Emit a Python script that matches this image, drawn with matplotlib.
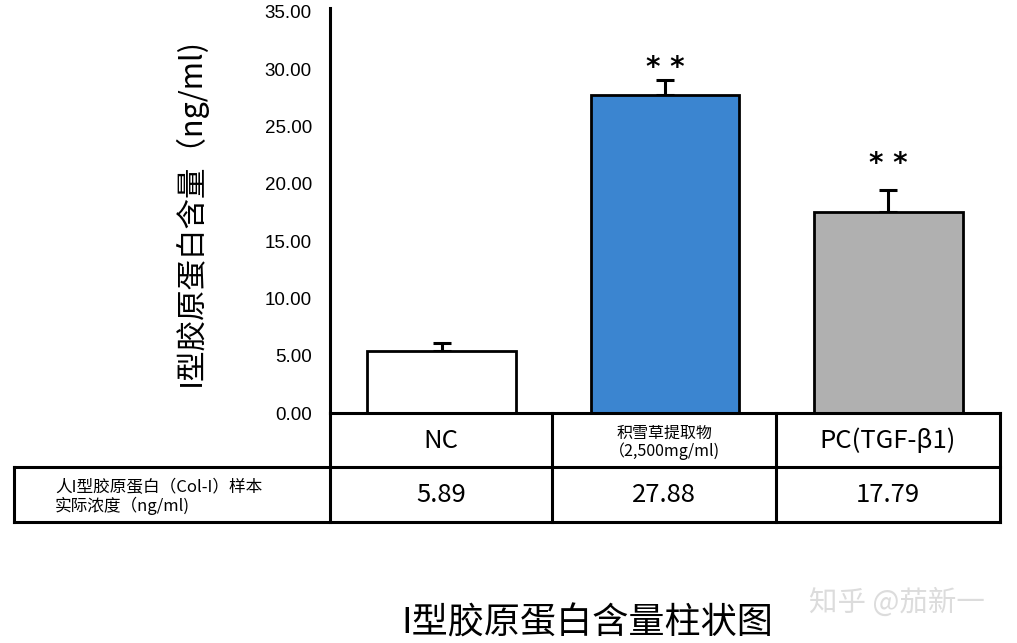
import matplotlib
matplotlib.use("Agg")
import matplotlib.pyplot as plt
from matplotlib.lines import Line2D

plt.rcParams['font.family'] = ['Noto Sans CJK SC', 'DejaVu Sans']

# ---------------- data ----------------
groups = ["NC", "积雪草提取物\n（2,500mg/ml)", "PC(TGF-β1)"]
bar_values = [5.42, 27.78, 17.58]          # bar heights
err_upper = [0.66, 1.30, 1.90]             # upper error bars
table_values = ["5.89", "27.88", "17.79"]  # values printed in the table
sig_labels = ["", "* *", "* *"]
sig_y = [None, 30.1, 21.7]
bar_colors = ["#ffffff", "#3b85d0", "#b0b0b0"]
yticks = [0, 5, 10, 15, 20, 25, 30, 35]
ylabel = "I型胶原蛋白含量（ng/ml)"
row_label = "人I型胶原蛋白（Col-I）样本\n实际浓度（ng/ml)"
title = "I型胶原蛋白含量柱状图"
watermark = "知乎 @茄新一"

W, H = 1017, 643
fig = plt.figure(figsize=(W / 100, H / 100), dpi=100)
fig.patch.set_facecolor("white")


def fx(x):
    return x / W


def fy(y):
    return 1 - y / H


# axes: x from 330 to 1000 px, y=0 at 413 px, y=35 at 12 px
ax_top = 8
ax = fig.add_axes([fx(330), fy(413), (1000 - 330) / W, (413 - ax_top) / H])
ax.set_xlim(-0.5, 2.5)
ax.set_ylim(0, 35 * (413 - ax_top) / (413 - 12))

x = list(range(len(groups)))
ax.bar(x, bar_values, width=0.665, color=bar_colors, edgecolor="black",
       linewidth=2.0, zorder=3)
ax.errorbar(x, bar_values, yerr=[[0] * len(x), err_upper], fmt="none",
            ecolor="black", elinewidth=2.2, capsize=6.5, capthick=2.2, zorder=2)
for xi, lab, yy in zip(x, sig_labels, sig_y):
    if lab:
        ax.text(xi, yy, lab, ha="center", va="center", fontsize=20,
                family="DejaVu Sans", fontweight="bold")

ax.set_yticks(yticks)
ax.set_yticklabels([f"{v:.2f}" for v in yticks], family="Liberation Sans",
                   fontsize=13.5)
ax.tick_params(axis="y", length=0, pad=13)
ax.set_xticks([])
for s in ["top", "right", "bottom"]:
    ax.spines[s].set_visible(False)
ax.spines["left"].set_linewidth(2.2)
ax.patch.set_alpha(0)

# ---------------- table ----------------
lw = 2.2


def hline(y, x0, x1):
    fig.add_artist(Line2D([fx(x0), fx(x1)], [fy(y), fy(y)], color="black",
                          lw=lw, solid_capstyle="projecting"))


def vline(x, y0, y1):
    fig.add_artist(Line2D([fx(x), fx(x)], [fy(y0), fy(y1)], color="black",
                          lw=lw, solid_capstyle="projecting"))


cols = [330, 552, 776, 1000]
hline(413, 330, 1000)
hline(467, 14, 1000)
hline(522, 14, 1000)
for c in cols:
    vline(c, 413, 522)
vline(14, 467, 522)

for i, g in enumerate(groups):
    cx = (cols[i] + cols[i + 1]) / 2
    if "\n" in g:
        fig.text(fx(cx), fy(442), g, ha="center", va="center", fontsize=11.5,
                 linespacing=1.05)
    else:
        fig.text(fx(cx), fy(441), g, ha="center", va="center", fontsize=18.5)
    fig.text(fx(cx), fy(495), table_values[i], ha="center", va="center",
             fontsize=18.5)

fig.text(fx(55), fy(497), row_label, ha="left", va="center", fontsize=12,
         linespacing=1.0)

# y label
fig.text(fx(190), fy(212), ylabel, rotation=90, ha="center", va="center",
         fontsize=22)

# title and watermark
fig.text(fx(587), fy(624), title, ha="center", va="center", fontsize=26)
fig.text(fx(897), fy(603), watermark, ha="center", va="center", fontsize=20.5,
         color="#dcdcdc")

fig.savefig("out.png", dpi=100, facecolor="white")
